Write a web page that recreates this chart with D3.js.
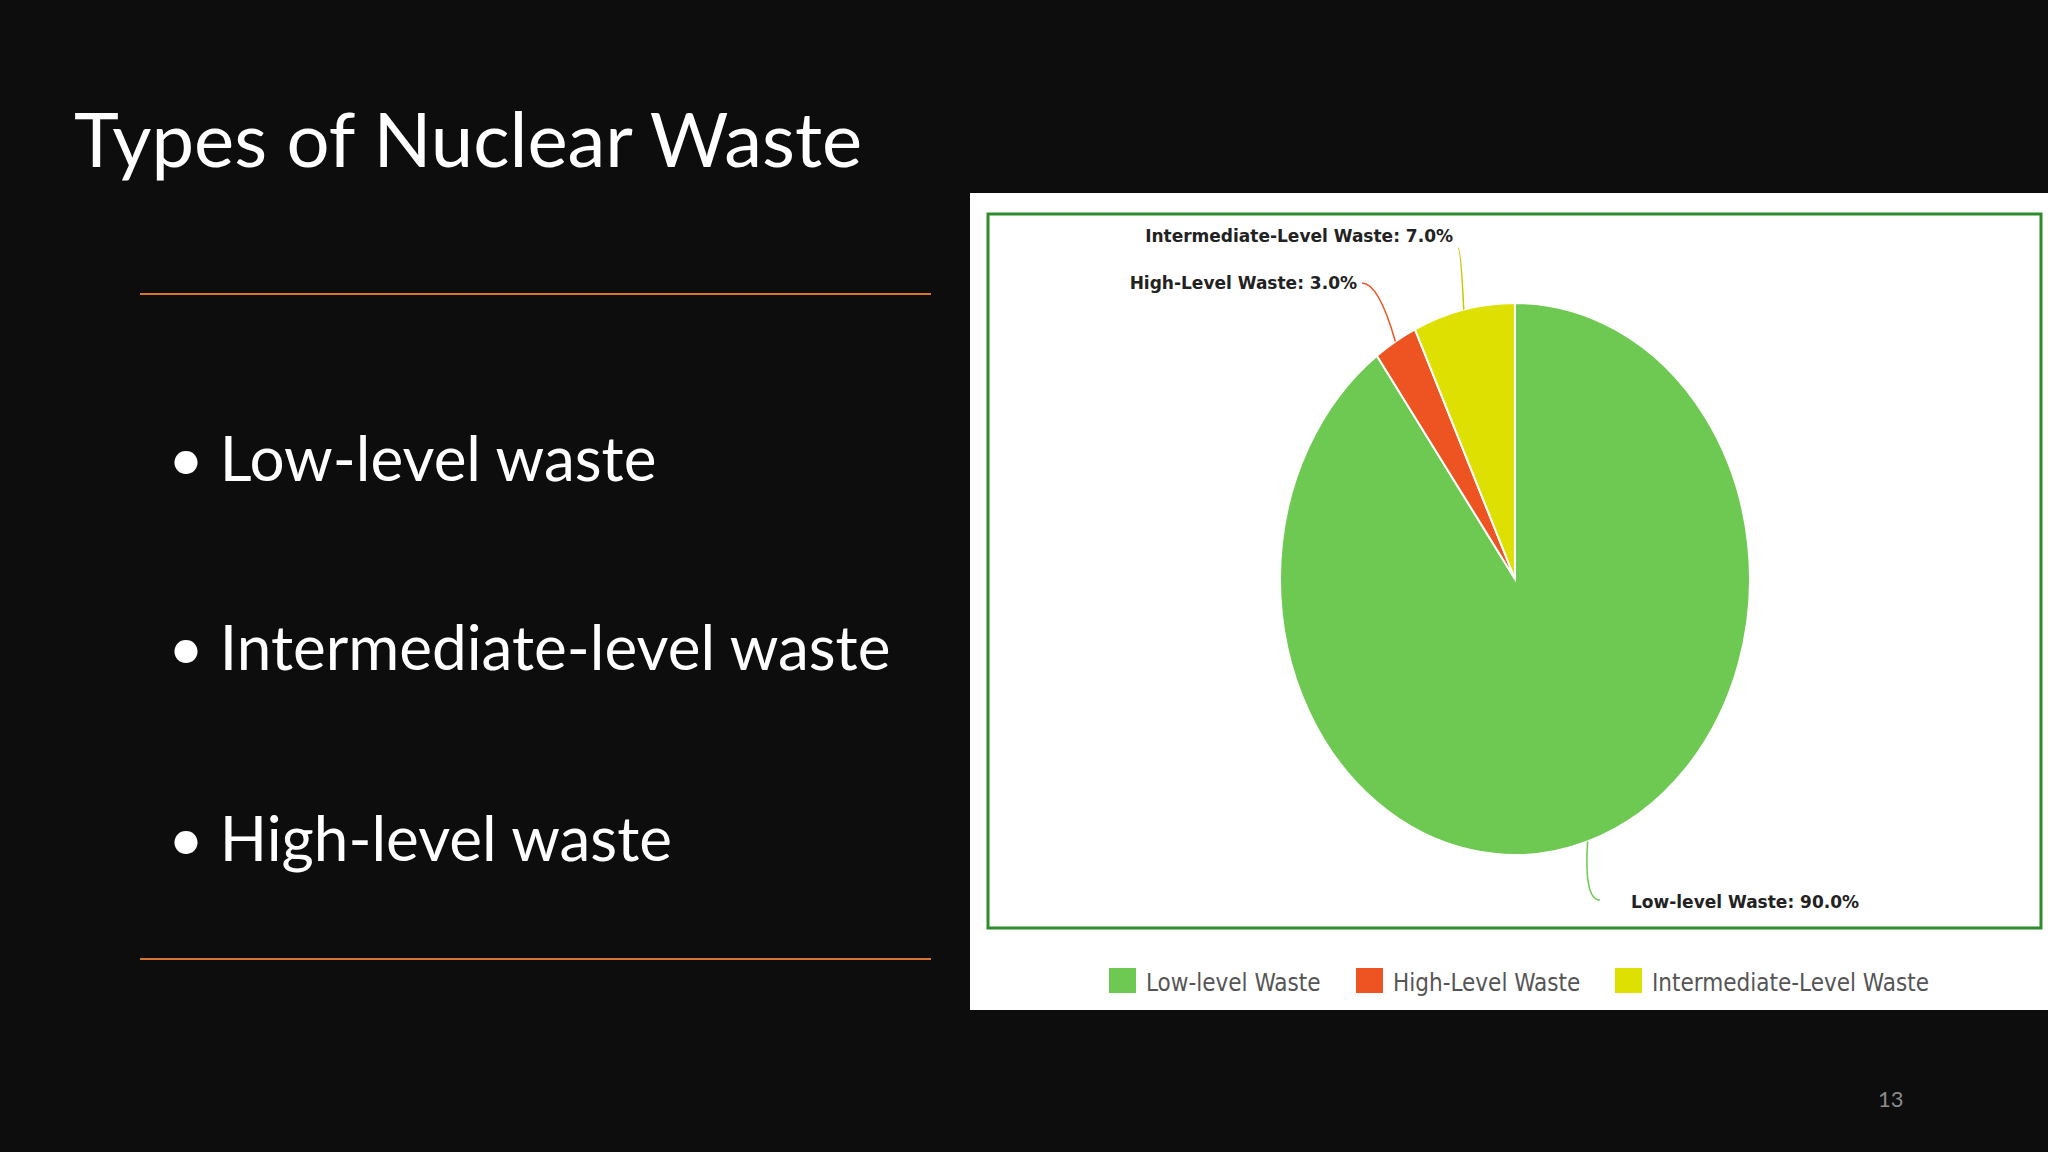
<!DOCTYPE html>
<html><head><meta charset="utf-8">
<script src="https://cdn.jsdelivr.net/npm/d3@7/dist/d3.min.js"></script>
<style>html,body{margin:0;padding:0;background:#0d0d0d;overflow:hidden}</style>
</head><body>
<svg id="c" width="2048" height="1152"></svg>
<script>
const categories = ["Low-level Waste", "High-Level Waste", "Intermediate-Level Waste"];
const values = [90.0, 3.0, 7.0];
const colors = ["#6dc951", "#ee5422", "#dde000"];
const bullets = ["Low-level waste", "Intermediate-level waste", "High-level waste"];

const svg = d3.select("#c");
svg.append("rect").attr("width",2048).attr("height",1152).attr("fill","#0d0d0d");
svg.append("text").attr("x",74).attr("y",167).attr("fill","#fff")
  .style("font-family","Lato, 'Open Sans', sans-serif").style("font-size","76px")
  .text("Types of Nuclear Waste");
[294, 959].forEach(y => svg.append("line").attr("x1",140).attr("x2",931).attr("y1",y).attr("y2",y)
  .attr("stroke","#d9742b").attr("stroke-width",2));
const by = [481, 670, 861];
bullets.forEach((b,i) => {
  svg.append("text").attr("x",168).attr("y",by[i]).attr("fill","#fff")
    .style("font-family","Lato, 'Open Sans', sans-serif").style("font-size","62px")
    .text("• " + b);
});
svg.append("text").attr("x",1878).attr("y",1107).attr("fill","#8c8c8c")
  .style("font-family","Lato, sans-serif").style("font-size","22px").text("13");

// panel
svg.append("rect").attr("x",970).attr("y",193).attr("width",1078).attr("height",817).attr("fill","#fff");
svg.append("rect").attr("x",988).attr("y",214).attr("width",1053).attr("height",714)
  .attr("fill","none").attr("stroke","#2e8b2e").attr("stroke-width",3);

const cx = 1515, cy = 579, rx = 235, ry = 276;
const pie = d3.pie().sort(null).value(d => d)(values);
const arc = d3.arc().innerRadius(0).outerRadius(rx);
const g = svg.append("g").attr("transform",`translate(${cx},${cy}) scale(1,${ry/rx})`);
g.selectAll("path").data(pie).join("path").attr("d",arc)
  .attr("fill",(d,i)=>colors[i]).attr("stroke","#fff").attr("stroke-width",2)
  .attr("vector-effect","non-scaling-stroke");

const labelPos = [[1631,908,"start"],[1357,289,"end"],[1453,242,"end"]];
const bends = [[1600,900],[1362,283],[1458,248]];
pie.forEach((d,i) => {
  const a = (d.startAngle + d.endAngle)/2;
  const px = cx + Math.sin(a)*rx, py = cy - Math.cos(a)*ry;
  const [bx,by2] = bends[i];
  svg.append("path").attr("d",`M${px},${py} Q${(px+bx)/2 + (i==0?-10:0)},${by2} ${bx},${by2}`)
    .attr("fill","none").attr("stroke",colors[i]==="#dde000"?"#c8c800":colors[i]).attr("stroke-width",1.5);
  svg.append("text").attr("x",labelPos[i][0]).attr("y",labelPos[i][1]).attr("text-anchor",labelPos[i][2])
    .style("font-family","'DejaVu Sans', sans-serif").style("font-weight","bold").style("font-size","17px")
    .attr("fill","#222").text(categories[i] + ": " + values[i].toFixed(1) + "%");
});

const lx = [1109, 1356, 1615];
categories.forEach((c,i) => {
  svg.append("rect").attr("x",lx[i]).attr("y",968).attr("width",27).attr("height",25).attr("fill",colors[i]);
  svg.append("text").attr("x",lx[i]+37).attr("y",991).attr("fill","#555")
    .style("font-family","'DejaVu Sans Condensed', 'DejaVu Sans', sans-serif").style("font-size","24px").text(c);
});
</script>
</body></html>
